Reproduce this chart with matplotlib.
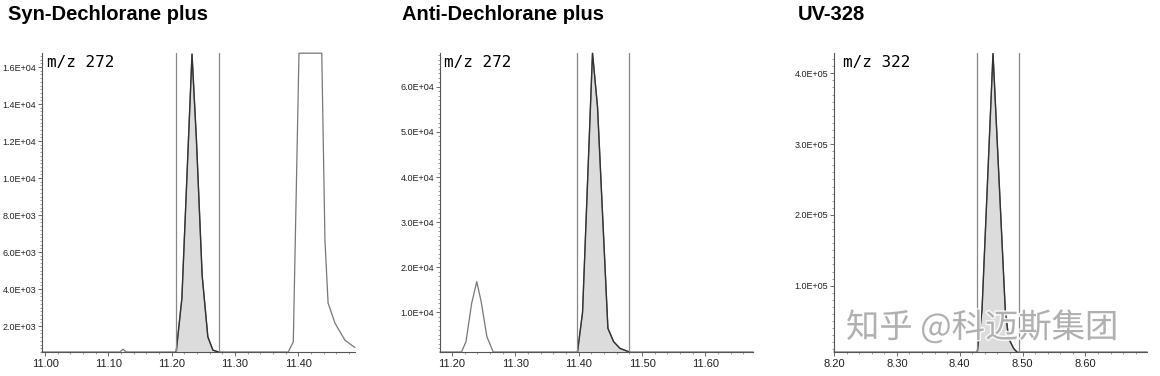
import numpy as np
import matplotlib
matplotlib.use('Agg')
from matplotlib import pyplot as plt
from matplotlib.ticker import MultipleLocator, FuncFormatter, AutoMinorLocator
import matplotlib.patheffects as pe

# chromatogram traces (time in min, intensity)
titles = ['Syn-Dechlorane plus', 'Anti-Dechlorane plus', 'UV-328']
mz_labels = ['m/z 272', 'm/z 272', 'm/z 322']

syn_t = [10.995, 11.118, 11.123, 11.128, 11.207, 11.216, 11.232, 11.239, 11.248, 11.257, 11.265, 11.274,
         11.384, 11.392, 11.401, 11.437, 11.442, 11.447, 11.458, 11.4735, 11.489]
syn_y = [600, 600, 750, 600, 600, 3500, 16700, 12050, 4750, 1420, 700, 600,
         600, 1150, 16750, 16750, 6650, 3240, 2150, 1240, 850]

anti_t = [11.181, 11.215, 11.222, 11.231, 11.239, 11.246, 11.255, 11.265,
          11.398, 11.406, 11.4217, 11.4296, 11.446, 11.455, 11.465, 11.480, 11.675]
anti_y = [1200, 1200, 3500, 12000, 16800, 12350, 4600, 1200,
          1200, 10000, 67500, 55570, 6450, 3500, 2000, 1200, 1200]

uv_t = [8.20, 8.428, 8.4355, 8.453, 8.4725, 8.4778, 8.4857, 8.491, 8.698]
uv_y = [6300, 6300, 65700, 428000, 65700, 25700, 11500, 6300, 6300]

# integration windows
limits = [(11.207, 11.274), (11.398, 11.480), (8.428, 8.4937)]
xlims = [(10.995, 11.4895), (11.181, 11.675), (8.20, 8.698)]
ylims = [(600, 16760), (1200, 67500), (6300, 428700)]
ymajor = [2000, 10000, 100000]
traces = [(syn_t, syn_y), (anti_t, anti_y), (uv_t, uv_y)]

fig = plt.figure(figsize=(11.6, 3.76), dpi=100)
lefts = [42, 440, 834]
width = 313
title_x = [8, 402, 798]
mz_x = [47, 444, 843]

for i in range(3):
    ax = fig.add_axes([lefts[i] / 1160, 24 / 376, width / 1160, 299 / 376])
    t = np.array(traces[i][0])
    y = np.array(traces[i][1])
    lo, hi = limits[i]
    ax.plot(t, y, color='#777777', lw=0.9, clip_on=False)
    m = (t >= lo) & (t <= hi)
    ax.fill_between(t[m], y[m], ylims[i][0], color='#dcdcdc', lw=0)
    ax.plot(t[m], y[m], color='#333333', lw=1.0)
    ax.axvline(lo, color='#888888', lw=0.9)
    ax.axvline(hi, color='#888888', lw=0.9)
    ax.set_xlim(*xlims[i])
    ax.set_ylim(*ylims[i])
    ax.xaxis.set_major_locator(MultipleLocator(0.1))
    ax.xaxis.set_minor_locator(MultipleLocator(0.02))
    ax.xaxis.set_major_formatter(FuncFormatter(lambda v, p: '%.2f' % v))
    ax.yaxis.set_major_locator(MultipleLocator(ymajor[i]))
    ax.yaxis.set_minor_locator(AutoMinorLocator(10))
    ax.yaxis.set_major_formatter(FuncFormatter(lambda v, p: '{:.1E}'.format(v)))
    for s in ['top', 'right']:
        ax.spines[s].set_visible(False)
    for s in ['left', 'bottom']:
        ax.spines[s].set_color('#555555')
        ax.spines[s].set_linewidth(0.8)
    ax.tick_params(which='major', length=3, width=0.6, color='#555555',
                   labelcolor='#222222')
    ax.tick_params(axis='x', labelsize=8, pad=2)
    ax.tick_params(axis='y', labelsize=6.5, pad=1)
    ax.tick_params(which='minor', length=1.5, width=0.5, color='#777777')
    for lab in ax.get_xticklabels() + ax.get_yticklabels():
        lab.set_family('Liberation Sans')
    fig.text(title_x[i] / 1160, 1 - 15 / 376, titles[i], fontsize=14.5, fontweight='bold',
             family='Liberation Sans', va='center', ha='left')
    fig.text(mz_x[i] / 1160, 1 - 62 / 376, mz_labels[i], fontsize=11.5,
             family='DejaVu Sans Mono', va='center', ha='left')

fig.text(846 / 1160, 1 - 328 / 376, '知乎 @科迈斯集团', fontsize=24, color='#a9a9a9',
         family=['Noto Sans CJK SC', 'DejaVu Sans'], va='center', ha='left', alpha=0.9,
         path_effects=[pe.withStroke(linewidth=2, foreground='white')])

plt.savefig('out.png', dpi=100)
